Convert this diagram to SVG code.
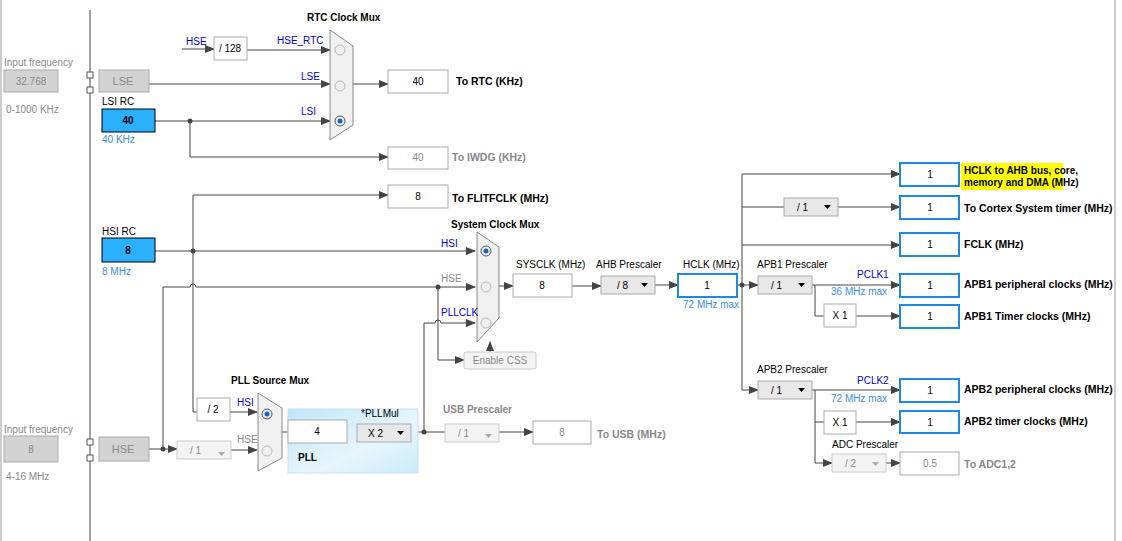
<svg xmlns="http://www.w3.org/2000/svg" width="1122" height="541" viewBox="0 0 1122 541">
<style>
text{font-family:"Liberation Sans",Arial,sans-serif;font-size:10px;fill:#000}
.b{font-weight:bold}
.g{fill:#888}
.bl{fill:#00c}
.lb{fill:#3a8ee6}
.c{text-anchor:middle}
.ln{stroke:#444;stroke-width:1;fill:none}
.box{fill:#fff;stroke:#aaa}
.bbox{fill:#fff;stroke:#1e88e5;stroke-width:2}
.gbox{fill:#d3d3d3;stroke:#aaa}
.src{fill:#2ab0ff;stroke:#000}
.dd{fill:#e8e8e8;stroke:#aaa}
.ddd{fill:#f3f3f3;stroke:#ccc}
.mux{fill:#f0f0f0;stroke:#888}
.rad{fill:#eee;stroke:#bbb}
.sq{fill:#fff;stroke:#555}
.t{font-size:10.5px}
</style>
<defs>
<marker id="a" markerWidth="10" markerHeight="8" refX="9" refY="4" orient="auto" markerUnits="userSpaceOnUse"><path d="M0,0L10,4L0,8z" fill="#444"/></marker>
<linearGradient id="pll" x1="0" y1="0" x2="1" y2="1"><stop offset="0" stop-color="#bfe6fa"/><stop offset="0.6" stop-color="#e8f6fd"/><stop offset="1" stop-color="#c9ebfb"/></linearGradient>
</defs>
<rect width="1122" height="541" fill="#fff"/>
<line x1="1" y1="0" x2="1" y2="541" stroke="#999"/>
<line x1="1115" y1="0" x2="1115" y2="541" stroke="#999"/>
<line x1="90" y1="10" x2="90" y2="541" stroke="#444"/>

<g id="connectors" class="ln">
<path d="M182,49H214" marker-end="url(#a)"/>
<path d="M247,50H330" marker-end="url(#a)"/>
<path d="M149,84H330" marker-end="url(#a)"/>
<path d="M155,121H330" marker-end="url(#a)"/>
<path d="M190,121V157H388" marker-end="url(#a)"/>
<path d="M353,84H388" marker-end="url(#a)"/>
<path d="M193,412V195H388" marker-end="url(#a)"/>
<path d="M193,412H197"/>
<path d="M155,251H475" marker-end="url(#a)"/>
<path d="M163,449V287H190a3,3 0 0 1 6,0H475" marker-end="url(#a)"/>
<path d="M424,432V323H435a3,3 0 0 1 6,0H475" marker-end="url(#a)"/>
<path d="M438,287V360H464" marker-end="url(#a)"/>
<path d="M490,352V342" marker-end="url(#a)"/>
<path d="M499,286H513" marker-end="url(#a)"/>
<path d="M572,286H601" marker-end="url(#a)"/>
<path d="M655,285H678" marker-end="url(#a)"/>
<path d="M737,285H758" marker-end="url(#a)"/>
<path d="M742,390V174H900" marker-end="url(#a)"/>
<path d="M742,207H784"/>
<path d="M838,207H900" marker-end="url(#a)"/>
<path d="M742,245H900" marker-end="url(#a)"/>
<path d="M742,390H758" marker-end="url(#a)"/>
<path d="M812,285H900" marker-end="url(#a)"/>
<path d="M815,285V316H824"/>
<path d="M856,316H900" marker-end="url(#a)"/>
<path d="M812,390H900" marker-end="url(#a)"/>
<path d="M815,390V463H832" marker-end="url(#a)"/>
<path d="M824,422H815"/>
<path d="M856,422H900" marker-end="url(#a)"/>
<path d="M886,463H900" marker-end="url(#a)"/>
<path d="M149,449H177" marker-end="url(#a)"/>
<path d="M231,450H257" marker-end="url(#a)"/>
<path d="M230,412H257" marker-end="url(#a)"/>
<path d="M282,432H288"/>
<path d="M347,432H357"/>
<path d="M411,432H445"/>
<path d="M499,432H533" marker-end="url(#a)"/>
</g>
<g fill="#444">
<circle cx="190" cy="121" r="2.5"/><circle cx="193" cy="251" r="2.5"/><circle cx="163" cy="449" r="2.5"/>
<circle cx="438" cy="287" r="2.5"/><circle cx="424" cy="432" r="2.5"/><circle cx="742" cy="285" r="2.5"/>
</g>

<g id="lse-input"><text x="4" y="66" class="g">Input frequency</text><rect x="4" y="70" width="54" height="22" class="gbox"/><text x="31" y="85" class="c g">32.768</text><text x="6" y="113" class="g">0-1000 KHz</text></g>
<g id="lse"><rect x="99" y="70" width="50" height="22" class="gbox"/><text x="123" y="85" class="c g" style="font-size:11px">LSE</text><rect x="87" y="72" width="6" height="6" class="sq"/><rect x="87" y="87" width="6" height="6" class="sq"/></g>
<g id="lsi"><text x="102" y="105">LSI RC</text><rect x="102" y="109" width="53" height="23" class="src"/><text x="128" y="124" class="c b">40</text><text x="102" y="143" class="lb">40 KHz</text></g>
<g id="hse-rtc"><text x="186" y="45" class="bl">HSE</text><rect x="214" y="37" width="33" height="23" class="box"/><text x="230" y="52" class="c">/ 128</text><text x="277" y="44" class="bl">HSE_RTC</text><text x="301" y="80" class="bl">LSE</text><text x="301" y="115" class="bl">LSI</text></g>
<g id="rtc-mux"><text x="307" y="21" class="b">RTC Clock Mux</text><path d="M330,30L353,46V125L330,140Z" class="mux"/><circle cx="340" cy="50" r="5" class="rad"/><circle cx="340" cy="86" r="5" class="rad"/><circle cx="340" cy="121" r="5" fill="#eee" stroke="#555"/><circle cx="340" cy="121" r="2.5" fill="#1565c0"/></g>
<g id="rtc"><rect x="388" y="70" width="60" height="23" class="box"/><text x="418" y="85" class="c">40</text><text x="456" y="85" class="b t">To RTC (KHz)</text></g>
<g id="iwdg"><rect x="388" y="147" width="60" height="22" class="box"/><text x="418" y="161" class="c g">40</text><text x="452" y="161" class="b g t">To IWDG (KHz)</text></g>
<g id="flit"><rect x="388" y="185" width="60" height="23" class="box"/><text x="418" y="200" class="c">8</text><text x="452" y="202" class="b t">To FLITFCLK (MHz)</text></g>
<g id="hsi"><text x="102" y="235">HSI RC</text><rect x="102" y="238" width="53" height="24" class="src"/><text x="128" y="254" class="c b">8</text><text x="102" y="275" class="lb">8 MHz</text></g>
<g id="sys-mux"><text x="451" y="228" class="b">System Clock Mux</text><path d="M477,232L499,247V318L477,342Z" class="mux"/><circle cx="486" cy="251" r="5" fill="#eee" stroke="#555"/><circle cx="486" cy="251" r="2.5" fill="#1565c0"/><circle cx="486" cy="287" r="5" class="rad"/><circle cx="486" cy="323" r="5" class="rad"/><text x="441" y="247" class="bl">HSI</text><text x="441" y="282" class="g">HSE</text><text x="441" y="316" class="bl">PLLCLK</text></g>
<g id="css"><rect x="464" y="352" width="72" height="17" rx="2" class="ddd"/><text x="500" y="364" class="c g">Enable CSS</text></g>
<g id="sysclk"><text x="516" y="268">SYSCLK (MHz)</text><rect x="513" y="274" width="59" height="23" class="box"/><text x="542" y="289" class="c">8</text></g>
<g id="ahb"><text x="596" y="268">AHB Prescaler</text><rect x="601" y="276" width="54" height="18" class="dd"/><text x="617" y="289">/ 8</text><path d="M641,283h7l-3.5,4z" fill="#000"/></g>
<g id="hclk"><text x="683" y="268">HCLK (MHz)</text><rect x="678" y="274" width="59" height="23" class="bbox"/><text x="707" y="289" class="c">1</text><text x="683" y="308" class="lb">72 MHz max</text></g>
<g id="ahb-out"><rect x="961" y="163" width="102" height="27" fill="#ffff00"/><rect x="900" y="163" width="59" height="23" class="bbox"/><text x="930" y="178" class="c">1</text><text x="964" y="174" class="b">HCLK to AHB bus, core,</text><text x="964" y="186" class="b">memory and DMA (MHz)</text></g>
<g id="cortex"><rect x="784" y="198" width="54" height="18" class="dd"/><text x="797" y="211">/ 1</text><path d="M824,205h7l-3.5,4z" fill="#000"/><rect x="900" y="196" width="59" height="23" class="bbox"/><text x="930" y="211" class="c">1</text><text x="964" y="212" class="b t">To Cortex System timer (MHz)</text></g>
<g id="fclk"><rect x="900" y="233" width="59" height="23" class="bbox"/><text x="930" y="248" class="c">1</text><text x="964" y="248" class="b t">FCLK (MHz)</text></g>
<g id="apb1"><text x="757" y="268">APB1 Prescaler</text><rect x="758" y="276" width="54" height="18" class="dd"/><text x="771" y="289">/ 1</text><path d="M798,283h7l-3.5,4z" fill="#000"/><text x="857" y="278" class="bl">PCLK1</text><text x="831" y="295" class="lb">36 MHz max</text><rect x="900" y="274" width="59" height="23" class="bbox"/><text x="930" y="289" class="c">1</text><text x="964" y="288" class="b t">APB1 peripheral clocks (MHz)</text><rect x="824" y="304" width="32" height="23" class="box"/><text x="840" y="319" class="c">X 1</text><rect x="900" y="305" width="59" height="23" class="bbox"/><text x="930" y="320" class="c">1</text><text x="964" y="320" class="b t">APB1 Timer clocks (MHz)</text></g>
<g id="apb2"><text x="757" y="373">APB2 Prescaler</text><rect x="758" y="381" width="54" height="18" class="dd"/><text x="771" y="394">/ 1</text><path d="M798,388h7l-3.5,4z" fill="#000"/><text x="857" y="384" class="bl">PCLK2</text><text x="831" y="402" class="lb">72 MHz max</text><rect x="900" y="379" width="59" height="23" class="bbox"/><text x="930" y="394" class="c">1</text><text x="964" y="393" class="b t">APB2 peripheral clocks (MHz)</text><rect x="824" y="411" width="32" height="23" class="box"/><text x="840" y="426" class="c">X 1</text><rect x="900" y="411" width="59" height="22" class="bbox"/><text x="930" y="426" class="c">1</text><text x="964" y="425" class="b t">APB2 timer clocks (MHz)</text></g>
<g id="adc"><text x="832" y="448">ADC Prescaler</text><rect x="832" y="454" width="54" height="18" class="ddd"/><text x="845" y="467" class="g">/ 2</text><path d="M872,462h7l-3.5,4z" fill="#aaa"/><rect x="900" y="452" width="59" height="23" class="box"/><text x="930" y="467" class="c g">0.5</text><text x="964" y="468" class="b g t">To ADC1,2</text></g>
<g id="hse-input"><text x="4" y="433" class="g">Input frequency</text><rect x="4" y="436" width="54" height="26" class="gbox"/><text x="31" y="453" class="c g">8</text><text x="6" y="480" class="g">4-16 MHz</text></g>
<g id="hse"><rect x="99" y="437" width="50" height="24" class="gbox"/><text x="123" y="453" class="c g" style="font-size:11px">HSE</text><rect x="87" y="439" width="6" height="6" class="sq"/><rect x="87" y="455" width="6" height="6" class="sq"/></g>
<g id="hse-div"><rect x="177" y="441" width="54" height="18" class="ddd"/><text x="190" y="454" class="g">/ 1</text><path d="M218,452h7l-3.5,4z" fill="#aaa"/><text x="237" y="443" class="g">HSE</text></g>
<g id="hsi-div"><rect x="197" y="398" width="33" height="23" class="box"/><text x="213" y="413" class="c">/ 2</text><text x="237" y="406" class="bl">HSI</text></g>
<g id="pll-mux"><text x="231" y="384" class="b">PLL Source Mux</text><path d="M258,393L282,408V458L258,471Z" class="mux"/><circle cx="267" cy="414" r="5" fill="#eee" stroke="#555"/><circle cx="267" cy="414" r="2.5" fill="#1565c0"/><circle cx="267" cy="451" r="5" class="rad"/></g>
<g id="pll"><rect x="288" y="409" width="130" height="64" fill="url(#pll)" stroke="#cde"/><text x="298" y="461" class="b">PLL</text><rect x="288" y="420" width="59" height="23" class="box"/><text x="317" y="435" class="c">4</text><text x="361" y="417">*PLLMul</text><rect x="357" y="424" width="54" height="18" class="dd"/><text x="368" y="437">X 2</text><path d="M397,431h7l-3.5,4z" fill="#000"/></g>
<g id="usb"><text x="443" y="413" class="b g">USB Prescaler</text><rect x="445" y="424" width="54" height="18" class="ddd"/><text x="458" y="437" class="g">/ 1</text><path d="M485,434h7l-3.5,4z" fill="#aaa"/><rect x="533" y="421" width="58" height="23" class="box"/><text x="562" y="436" class="c g">8</text><text x="597" y="438" class="b g t">To USB (MHz)</text></g>
</svg>
